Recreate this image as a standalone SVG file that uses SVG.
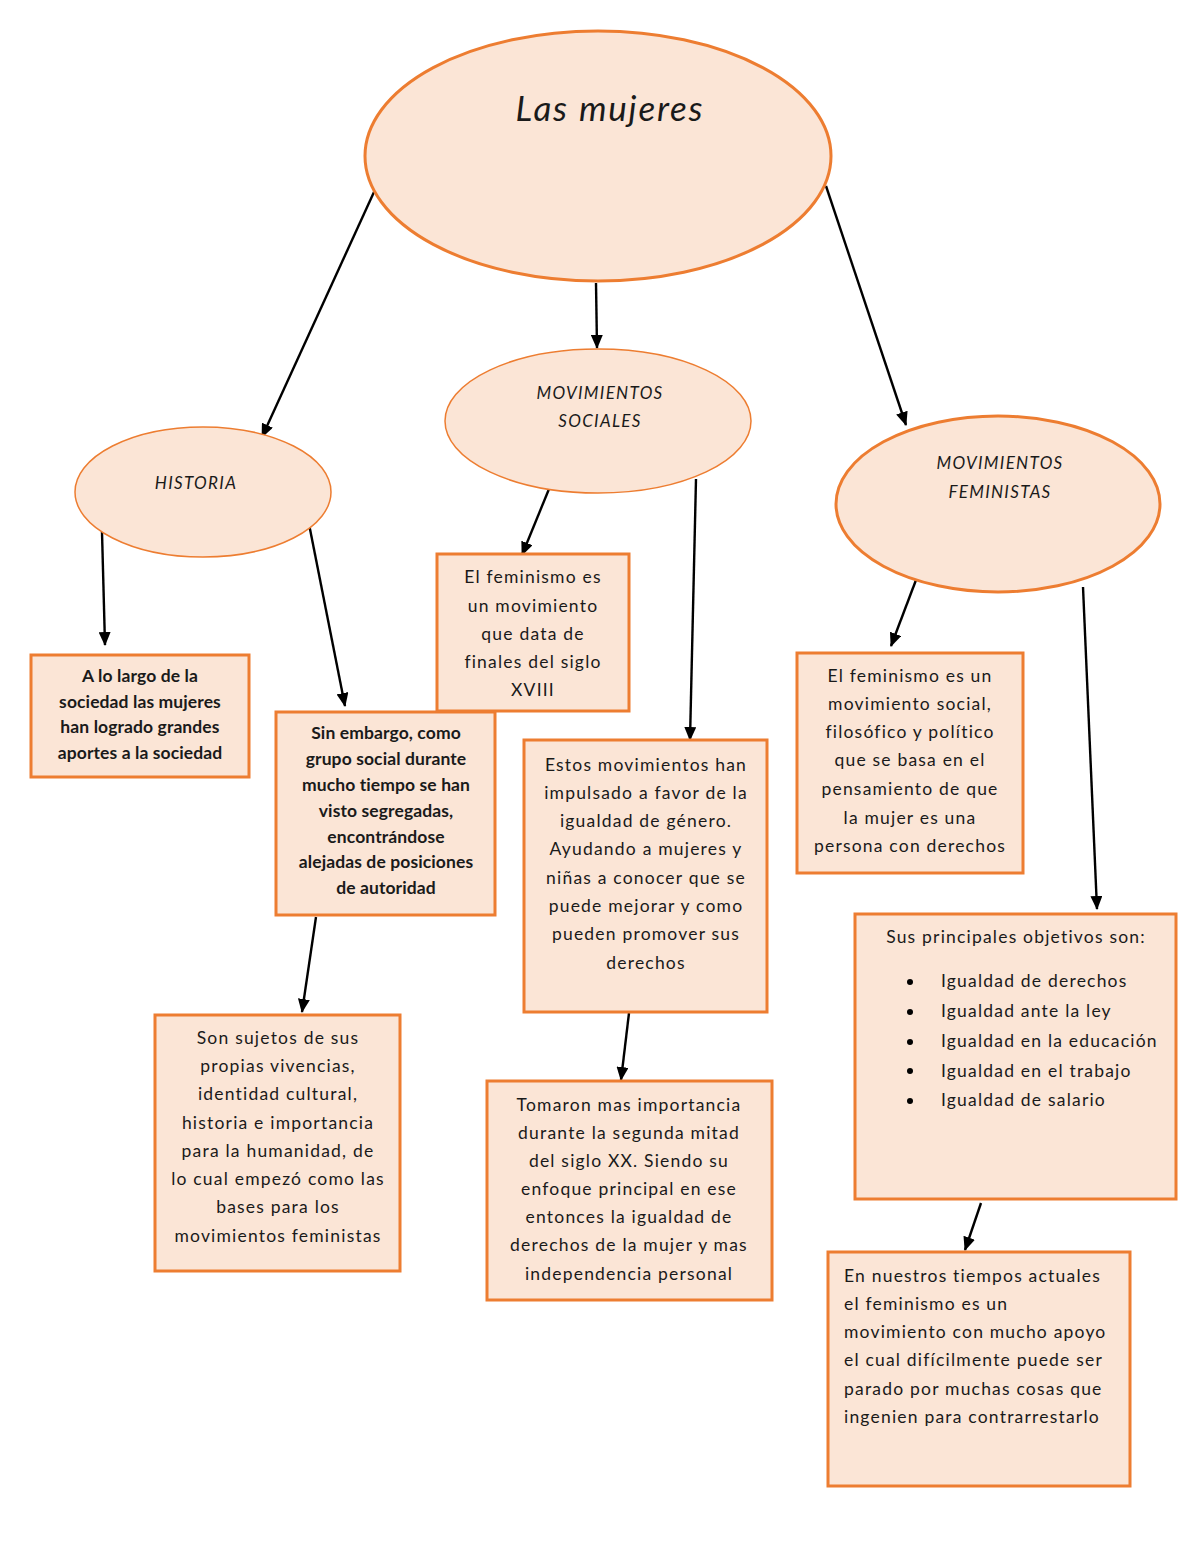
<svg xmlns="http://www.w3.org/2000/svg" width="1200" height="1553" viewBox="0 0 1200 1553">
<defs>
<marker id="ah" markerWidth="14" markerHeight="12" refX="13" refY="6" orient="auto" markerUnits="userSpaceOnUse">
<path d="M0,0 L14,6 L0,12 Z" fill="#000"/>
</marker>
<style>
.node{fill:#FBE5D6;stroke:#ED7D31}
.thick{stroke-width:3}
.thin{stroke-width:1.5}
.t{font-family:Lato,"Open Sans","Liberation Sans",sans-serif;font-size:17.5px;fill:#1a1a1a;text-anchor:middle;letter-spacing:1.2px}
.b{font-weight:bold;letter-spacing:0.1px}
.it{font-style:italic}
.e{font-size:17px;letter-spacing:1.3px}
.l{text-anchor:start}
.c line{stroke:#000;stroke-width:2.4;marker-end:url(#ah)}
</style>
</defs>
<rect width="1200" height="1553" fill="#fff"/>
<g class="c" id="connectors">
<line x1="374" y1="192" x2="262" y2="437"/>
<line x1="596" y1="283" x2="597" y2="348"/>
<line x1="826" y1="186" x2="906" y2="425"/>
<line x1="102" y1="532" x2="105" y2="645"/>
<line x1="309" y1="524" x2="345" y2="706"/>
<line x1="549" y1="489" x2="522" y2="555"/>
<line x1="696" y1="479" x2="690" y2="740"/>
<line x1="916" y1="580" x2="891" y2="646"/>
<line x1="1083" y1="587" x2="1097" y2="909"/>
<line x1="316" y1="917" x2="302" y2="1012"/>
<line x1="629" y1="1013" x2="621" y2="1080"/>
<line x1="981" y1="1203" x2="965" y2="1250"/>
</g>
<g id="main">
<ellipse class="node thick" cx="598" cy="156" rx="233" ry="125"/>
<text class="t it" x="610" y="121" style="font-size:35px;letter-spacing:1.8px">Las mujeres</text>
</g>
<g id="historia">
<ellipse class="node thin" cx="203" cy="492" rx="128" ry="65"/>
<text class="t it e" x="196" y="489">HISTORIA</text>
</g>
<g id="sociales">
<ellipse class="node thin" cx="598" cy="421" rx="153" ry="72"/>
<text class="t it e" x="600" y="399">MOVIMIENTOS</text>
<text class="t it e" x="600" y="427">SOCIALES</text>
</g>
<g id="feministas">
<ellipse class="node thick" cx="998" cy="504" rx="162" ry="88"/>
<text class="t it e" x="1000" y="469">MOVIMIENTOS</text>
<text class="t it e" x="1000" y="498">FEMINISTAS</text>
</g>
<g id="box1">
<rect class="node thick" x="31" y="655" width="218" height="122"/>
<text class="t b" x="140" y="682">A lo largo de la</text>
<text class="t b" x="140" y="708">sociedad las mujeres</text>
<text class="t b" x="140" y="733">han logrado grandes</text>
<text class="t b" x="140" y="759">aportes a la sociedad</text>
</g>
<g id="box2">
<rect class="node thick" x="276" y="712" width="219" height="203"/>
<text class="t b" x="386" y="739">Sin embargo, como</text>
<text class="t b" x="386" y="765">grupo social durante</text>
<text class="t b" x="386" y="791">mucho tiempo se han</text>
<text class="t b" x="386" y="817">visto segregadas,</text>
<text class="t b" x="386" y="843">encontrándose</text>
<text class="t b" x="386" y="868">alejadas de posiciones</text>
<text class="t b" x="386" y="894">de autoridad</text>
</g>
<g id="box3">
<rect class="node thick" x="437" y="554" width="192" height="157"/>
<text class="t" x="533" y="583">El feminismo es</text>
<text class="t" x="533" y="612">un movimiento</text>
<text class="t" x="533" y="640">que data de</text>
<text class="t" x="533" y="668">finales del siglo</text>
<text class="t" x="533" y="696">XVIII</text>
</g>
<g id="box4">
<rect class="node thick" x="524" y="740" width="243" height="272"/>
<text class="t" x="646" y="771">Estos movimientos han</text>
<text class="t" x="646" y="799">impulsado a favor de la</text>
<text class="t" x="646" y="827">igualdad de género.</text>
<text class="t" x="646" y="855">Ayudando a mujeres y</text>
<text class="t" x="646" y="884">niñas a conocer que se</text>
<text class="t" x="646" y="912">puede mejorar y como</text>
<text class="t" x="646" y="940">pueden promover sus</text>
<text class="t" x="646" y="969">derechos</text>
</g>
<g id="box5">
<rect class="node thick" x="797" y="653" width="226" height="220"/>
<text class="t" x="910" y="682">El feminismo es un</text>
<text class="t" x="910" y="710">movimiento social,</text>
<text class="t" x="910" y="738">filosófico y político</text>
<text class="t" x="910" y="766">que se basa en el</text>
<text class="t" x="910" y="795">pensamiento de que</text>
<text class="t" x="910" y="824">la mujer es una</text>
<text class="t" x="910" y="852">persona con derechos</text>
</g>
<g id="box6">
<rect class="node thick" x="855" y="914" width="321" height="285"/>
<text class="t" x="1016" y="943">Sus principales objetivos son:</text>
<g fill="#000"><circle cx="910" cy="982" r="3"/><circle cx="910" cy="1012" r="3"/><circle cx="910" cy="1042" r="3"/><circle cx="910" cy="1071" r="3"/><circle cx="910" cy="1101" r="3"/></g>
<text class="t l" x="941" y="987">Igualdad de derechos</text>
<text class="t l" x="941" y="1017">Igualdad ante la ley</text>
<text class="t l" x="941" y="1047">Igualdad en la educación</text>
<text class="t l" x="941" y="1077">Igualdad en el trabajo</text>
<text class="t l" x="941" y="1106">Igualdad de salario</text>
</g>
<g id="box7">
<rect class="node thick" x="155" y="1015" width="245" height="256"/>
<text class="t" x="278" y="1044">Son sujetos de sus</text>
<text class="t" x="278" y="1072">propias vivencias,</text>
<text class="t" x="278" y="1100">identidad cultural,</text>
<text class="t" x="278" y="1129">historia e importancia</text>
<text class="t" x="278" y="1157">para la humanidad, de</text>
<text class="t" x="278" y="1185">lo cual empezó como las</text>
<text class="t" x="278" y="1213">bases para los</text>
<text class="t" x="278" y="1242">movimientos feministas</text>
</g>
<g id="box8">
<rect class="node thick" x="487" y="1081" width="285" height="219"/>
<text class="t" x="629" y="1111">Tomaron mas importancia</text>
<text class="t" x="629" y="1139">durante la segunda mitad</text>
<text class="t" x="629" y="1167">del siglo XX. Siendo su</text>
<text class="t" x="629" y="1195">enfoque principal en ese</text>
<text class="t" x="629" y="1223">entonces la igualdad de</text>
<text class="t" x="629" y="1251">derechos de la mujer y mas</text>
<text class="t" x="629" y="1280">independencia personal</text>
</g>
<g id="box9">
<rect class="node thick" x="828" y="1252" width="302" height="234"/>
<text class="t l" x="844" y="1282">En nuestros tiempos actuales</text>
<text class="t l" x="844" y="1310">el feminismo es un</text>
<text class="t l" x="844" y="1338">movimiento con mucho apoyo</text>
<text class="t l" x="844" y="1366">el cual difícilmente puede ser</text>
<text class="t l" x="844" y="1395">parado por muchas cosas que</text>
<text class="t l" x="844" y="1423">ingenien para contrarrestarlo</text>
</g>
</svg>
